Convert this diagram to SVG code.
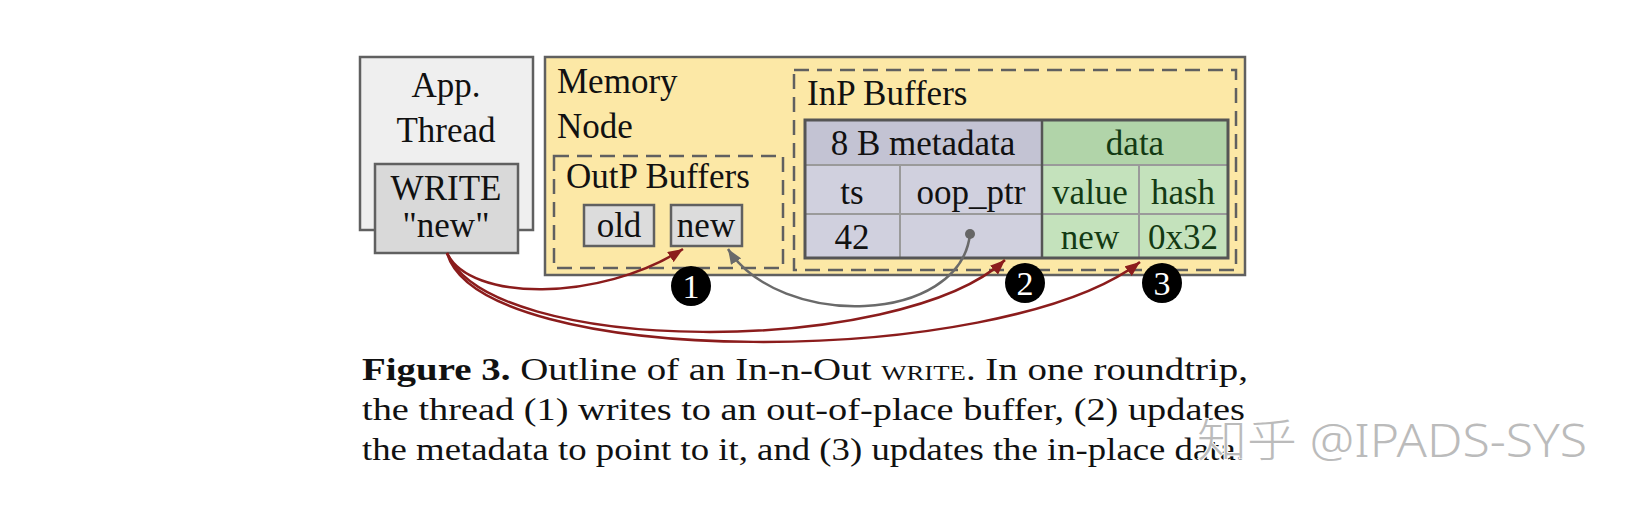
<svg xmlns="http://www.w3.org/2000/svg" width="1629" height="506" viewBox="0 0 1629 506">
<style>
.t{font-family:"Liberation Serif","Times New Roman",serif;font-size:35px;fill:#111}
.c{text-anchor:middle}
.g{fill:#133a13}
.box{stroke:#606060;stroke-width:2.5}
.dash{fill:none;stroke:#606060;stroke-width:2.5;stroke-dasharray:15 8}
.grid{stroke:#9a9a9a;stroke-width:2;fill:none}
.red{fill:none;stroke:#8b1c1c;stroke-width:2.5}
.gray{fill:none;stroke:#6a6a6a;stroke-width:2.5}
.num{font-family:"Liberation Serif","Times New Roman",serif;font-size:34px;fill:#fff;text-anchor:middle}
.cap{font-family:"Liberation Serif","Times New Roman",serif;font-size:32px;fill:#111}
</style>
<defs>
<marker id="ar" markerUnits="userSpaceOnUse" markerWidth="16" markerHeight="12" refX="15" refY="6" orient="auto">
<path d="M0,0 L15,6 L0,12 z" fill="#8b1c1c"/>
</marker>
<marker id="ag" markerUnits="userSpaceOnUse" markerWidth="16" markerHeight="12" refX="15" refY="6" orient="auto">
<path d="M0,0 L15,6 L0,12 z" fill="#6a6a6a"/>
</marker>
</defs>
<rect width="1629" height="506" fill="#fff"/>

<g id="app-thread">
<rect class="box" x="360" y="57" width="173" height="173" fill="#efefef"/>
<text class="t c" x="446" y="97">App.</text>
<text class="t c" x="446" y="142">Thread</text>
</g>
<g id="write-op">
<rect class="box" x="375" y="164" width="143" height="89" fill="#d9d9d9"/>
<text class="t c" x="446" y="200">WRITE</text>
<text class="t c" x="446" y="237">"new"</text>
</g>

<g id="memory-node">
<rect class="box" x="545" y="57" width="700" height="218" fill="#fce8a6"/>
<text class="t" x="557" y="93">Memory</text>
<text class="t" x="557" y="138">Node</text>
</g>

<g id="outp-buffers">
<rect class="dash" x="554" y="156" width="229" height="112"/>
<text class="t" x="566" y="188">OutP Buffers</text>
<g id="old-buf">
<rect class="box" x="584" y="205" width="70" height="41" fill="#dcdcdc"/>
<text class="t c" x="619" y="237">old</text>
</g>
<g id="new-buf">
<rect class="box" x="671" y="205" width="71" height="41" fill="#dcdcdc"/>
<text class="t c" x="706" y="237">new</text>
</g>
</g>

<g id="inp-buffers">
<rect class="dash" x="794" y="70" width="442" height="200"/>
<text class="t" x="807" y="105">InP Buffers</text>
<g id="metadata">
<rect x="805" y="120" width="237" height="45" fill="#c3c3d3"/>
<rect x="805" y="165" width="237" height="93" fill="#d0d0de"/>
<text class="t c" x="923" y="155">8 B metadata</text>
<text class="t c" x="852" y="204">ts</text>
<text class="t c" x="971" y="204">oop_ptr</text>
<text class="t c" x="852" y="249">42</text>
</g>
<g id="data">
<rect x="1042" y="120" width="186" height="45" fill="#b1d4a9"/>
<rect x="1042" y="165" width="186" height="93" fill="#c4e2bc"/>
<text class="t c g" x="1135" y="155">data</text>
<text class="t c g" x="1090" y="204">value</text>
<text class="t c g" x="1183" y="204">hash</text>
<text class="t c g" x="1090" y="249">new</text>
<text class="t c g" x="1183" y="249">0x32</text>
</g>
<path class="grid" d="M805,165 H1228 M805,214 H1228 M900,165 V258 M1139,165 V258"/>
<path d="M1042,120 V258" stroke="#555" stroke-width="2.5"/>
<rect x="805" y="120" width="423" height="138" fill="none" stroke="#555" stroke-width="3"/>
</g>

<g id="connectors">
<path class="red" d="M447,253 C470,302 600,302 683,249" marker-end="url(#ar)"/>
<path class="red" d="M447,253 C490,357 900,357 1005,260" marker-end="url(#ar)"/>
<path class="red" d="M447,253 C480,370 1000,370 1140,262" marker-end="url(#ar)"/>
<path class="gray" d="M970,234 C960,325 780,330 728,249" marker-end="url(#ag)"/>
<circle cx="970" cy="234" r="5" fill="#666"/>
</g>

<g id="step-1">
<circle cx="691" cy="286" r="20" fill="#000"/>
<text class="num" x="691" y="298">1</text>
</g>
<g id="step-2">
<circle cx="1025" cy="283" r="20" fill="#000"/>
<text class="num" x="1025" y="295">2</text>
</g>
<g id="step-3">
<circle cx="1162" cy="283" r="20" fill="#000"/>
<text class="num" x="1162" y="295">3</text>
</g>

<g id="caption">
<text class="cap" x="362" y="380" textLength="886" lengthAdjust="spacingAndGlyphs"><tspan font-weight="bold">Figure 3.</tspan> Outline of an In-n-Out <tspan style="font-variant:small-caps">write</tspan>. In one roundtrip,</text>
<text class="cap" x="362" y="420" textLength="883" lengthAdjust="spacingAndGlyphs">the thread (1) writes to an out-of-place buffer, (2) updates</text>
<text class="cap" x="362" y="460" textLength="883" lengthAdjust="spacingAndGlyphs">the metadata to point to it, and (3) updates the in-place data.</text>
</g>

<text x="1197" y="457" textLength="390" lengthAdjust="spacingAndGlyphs" style="font-family:'Noto Sans','Noto Sans CJK SC',sans-serif;font-size:45px;font-weight:300;fill:#bbbbbb;stroke:#fff;stroke-width:2;paint-order:stroke">知乎 @IPADS-SYS</text>
</svg>
